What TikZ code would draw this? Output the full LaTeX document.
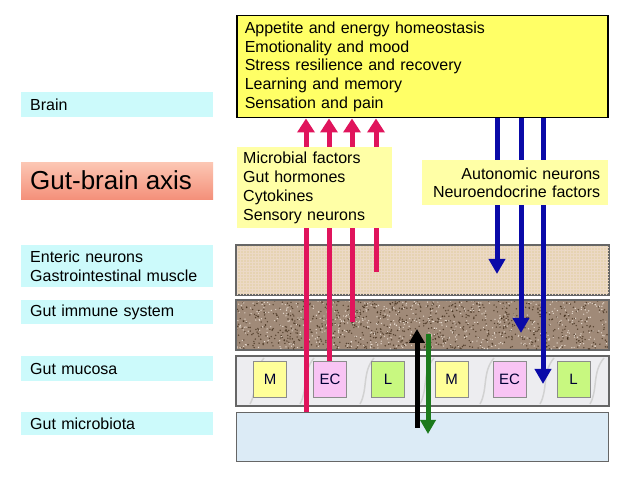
\documentclass[tikz,border=0pt]{standalone}
\usepackage{fontspec}
\setmainfont{Liberation Sans}
\usetikzlibrary{arrows.meta,patterns,shadings}
\definecolor{brainyel}{HTML}{FFFF66}
\definecolor{softyel}{HTML}{FFFFA6}
\definecolor{labcyan}{HTML}{CCFAFB}
\definecolor{pinkarr}{HTML}{E0145C}
\definecolor{bluearr}{HTML}{0A0AA8}
\definecolor{greenarr}{HTML}{1C7A1C}
\definecolor{beige}{HTML}{E6D3B2}
\definecolor{brownl}{HTML}{A08A78}
\definecolor{marble}{HTML}{EDEDF0}
\definecolor{micro}{HTML}{DCEBF6}
\definecolor{cellM}{HTML}{FFFF99}
\definecolor{cellEC}{HTML}{F8C4F4}
\definecolor{cellL}{HTML}{C8F880}
\definecolor{salmonA}{HTML}{FCC7B4}
\definecolor{salmonB}{HTML}{F4907A}
\begin{document}
\begin{tikzpicture}[x=1pt,y=-1pt,
  txt/.style={font=\fontsize{16}{18.8}\selectfont},
  label/.style={txt,fill=labcyan,anchor=north west,align=left,inner xsep=9pt,inner ysep=0pt,minimum width=192pt,text width=174pt},
  layer/.style={draw=gray!80!black,line width=1.3pt,anchor=north west,minimum width=372pt,minimum height=49pt,inner sep=0pt},
  cell/.style={draw=gray!90,line width=0.8pt,minimum width=33pt,minimum height=36pt,inner sep=0pt,font=\fontsize{15}{15}\selectfont,text=black!80!blue},
  uparr/.style={pinkarr,line width=5pt,-{Triangle[width=17pt,length=14pt]}},
  dnarr/.style={bluearr,line width=5pt,-{Triangle[width=16pt,length=15pt]}},
  infobox/.style={txt,fill=softyel,inner ysep=0pt}]
\useasboundingbox (0,0) rectangle (638,478);
\fill[white] (0,0) rectangle (638,478);

% left labels
\node[label,minimum height=25pt] (lbrain) at (21,92) {Brain};
\node[anchor=north west,minimum width=192pt,minimum height=37pt,inner sep=0pt,top color=salmonA,bottom color=salmonB] (laxis) at (21,162) {};
\node[anchor=west,inner sep=0pt,font=\fontsize{26}{26}\selectfont] (laxist) at (30,180.5) {Gut-brain axis};
\node[label,minimum height=42pt] (lent) at (21,245) {Enteric neurons\\Gastrointestinal muscle};
\node[label,minimum height=24pt] (limm) at (21,300) {Gut immune\ system};
\node[label,minimum height=25pt] (lmuc) at (21,356) {Gut mucosa};
\node[label,minimum height=23pt] (lmic) at (21,412) {Gut microbiota};

% brain box
\node[txt,draw=black,line width=1.5pt,fill=brainyel,anchor=north west,minimum width=371pt,minimum height=102pt,text width=355pt,align=left,inner xsep=7pt] (brain) at (236,15)
 {Appetite and energy homeostasis\\Emotionality and mood\\Stress resilience and recovery\\Learning and memory\\Sensation and pain};

% layers
\node[layer,fill=beige] (enteric) at (236,245) {};
\fill[pattern=grid,pattern color=brown!30] (enteric.north west) rectangle (enteric.south east);
\draw[gray!80!black,line width=1.3pt] (enteric.north west) rectangle (enteric.south east);
\node[layer,fill=brownl] (immune) at (236,300) {};
\pgfmathsetseed{7}
\begin{scope}
\clip (immune.north west) rectangle (immune.south east);
\foreach \i in {1,...,900} {
  \pgfmathsetmacro{\px}{236+372*rnd}
  \pgfmathsetmacro{\py}{300+49*rnd}
  \fill[black!70!brown,opacity=0.7] (\px,\py) circle (0.8pt);
}
\foreach \i in {1,...,600} {
  \pgfmathsetmacro{\px}{236+372*rnd}
  \pgfmathsetmacro{\py}{300+49*rnd}
  \fill[white!85!brown,opacity=0.8] (\px,\py) circle (0.7pt);
}
\end{scope}
\draw[gray!80!black,line width=1.3pt] (immune.north west) rectangle (immune.south east);
\node[layer,fill=marble] (mucosa) at (236,356) {};
\begin{scope}
\clip (mucosa.north west) rectangle (mucosa.south east);
\foreach \sx in {250,300,360,420,480,540,590} {
  \draw[gray!35,line width=1.5pt] (\sx,404) .. controls (\sx+8,390) and (\sx+2,372) .. (\sx+14,358);
}
\end{scope}
\draw[gray!80!black,line width=1.3pt] (mucosa.north west) rectangle (mucosa.south east);
\node[layer,fill=micro] (microb) at (236,412) {};

% cells
\node[cell,fill=cellM]  (m1)  at (270,379) {M};
\node[cell,fill=cellEC] (ec1) at (330,379) {EC};
\node[cell,fill=cellL]  (l1)  at (388,379) {L};
\node[cell,fill=cellM]  (m2)  at (451.5,379) {M};
\node[cell,fill=cellEC] (ec2) at (509.5,379) {EC};
\node[cell,fill=cellL]  (l2)  at (573.5,379) {L};

% pink arrows (gut to brain)
\coordinate (p1) at (306,412);
\coordinate (p2) at (329,361);
\coordinate (p3) at (352,322);
\coordinate (p4) at (376,272);
\draw[uparr] (p1) -- (brain.south -| p1);
\draw[uparr] (p2) -- (brain.south -| p2);
\draw[uparr] (p3) -- (brain.south -| p3);
\draw[uparr] (p4) -- (brain.south -| p4);

% blue arrows (brain to gut)
\coordinate (b1) at (497,274);
\coordinate (b2) at (521,333);
\coordinate (b3) at (543,384);
\draw[dnarr] (brain.south -| b1) -- (b1);
\draw[dnarr] (brain.south -| b2) -- (b2);
\draw[dnarr] (brain.south -| b3) -- (b3);

% black and green arrows
\coordinate (k0) at (417,428);
\coordinate (k1) at (417,329);
\coordinate (g0) at (428,334);
\coordinate (g1) at (428,434);
\draw[black,line width=5pt,-{Triangle[width=15pt,length=14pt]}] (k0) -- (k1);
\draw[greenarr,line width=5pt,-{Triangle[width=15pt,length=14pt]}] (g0) -- (g1);

% info boxes
\node[infobox,anchor=north west,minimum width=155pt,minimum height=81pt,text width=143pt,align=left,inner xsep=6pt] (gutsig) at (237,147)
 {Microbial factors\\Gut hormones\\Cytokines\\Sensory neurons};
\node[infobox,anchor=north west,minimum width=186pt,minimum height=45pt,text width=170pt,align=right,inner xsep=8pt] (brsig) at (422,160)
 {Autonomic neurons\\Neuroendocrine factors};
\end{tikzpicture}
\end{document}
